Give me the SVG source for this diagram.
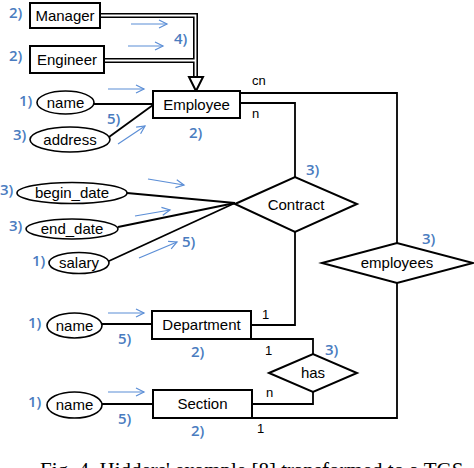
<svg xmlns="http://www.w3.org/2000/svg" width="474" height="468" viewBox="0 0 474 468">
<defs>
<style>
.box{fill:#fff;stroke:#000;stroke-width:2}
.ell{fill:#fff;stroke:#000;stroke-width:1.6}
.ln{fill:none;stroke:#000;stroke-width:1.8}
.t{font-family:"Liberation Sans",Arial,sans-serif;font-size:15px;fill:#000;text-anchor:middle}
.c{font-family:"Liberation Sans",Arial,sans-serif;font-size:13px;fill:#000}
.lb{font-family:"Open Sans","Liberation Sans",sans-serif;font-size:15px;font-weight:600;fill:#4a7cc0}
.ba{fill:none;stroke:#5b8ed6;stroke-width:1.2;marker-end:url(#ah)}
</style>
<marker id="ah" markerWidth="12" markerHeight="12" refX="9" refY="5" orient="auto" markerUnits="userSpaceOnUse">
<path d="M1,1 L9,5 L1,9" fill="none" stroke="#5b8ed6" stroke-width="1.2"/>
</marker>
</defs>
<rect width="474" height="468" fill="#fff"/>

<g id="connectors">
<path d="M100,15.5 H195.5 V78 M104,60.5 H195.5" fill="none" stroke="#000" stroke-width="5"/>
<path d="M99,15.5 H195.5 V79 M103,60.5 H195.5" fill="none" stroke="#fff" stroke-width="1.8"/>
<polygon points="189,77 203,77 196,91" fill="#fff" stroke="#000" stroke-width="2"/>
<line class="ln" x1="94" y1="104" x2="153" y2="104"/>
<line class="ln" x1="109" y1="137" x2="153" y2="105"/>
<path class="ln" d="M240,93 H397 V243"/>
<path class="ln" d="M240,103 H295 V177"/>
<line class="ln" x1="127" y1="193" x2="235" y2="203"/>
<line class="ln" x1="118" y1="227" x2="235" y2="203"/>
<line class="ln" x1="109" y1="261" x2="235" y2="203"/>
<path class="ln" d="M295,232 V325 H251"/>
<path class="ln" d="M251,339 H313 V354"/>
<path class="ln" d="M313,392 V404 H252"/>
<path class="ln" d="M397,283 V418 H252"/>
<line class="ln" x1="102" y1="324" x2="152" y2="324"/>
<line class="ln" x1="102" y1="404" x2="153" y2="404"/>
<line class="ba" x1="131" y1="24" x2="167" y2="24"/>
<line class="ba" x1="128" y1="46" x2="163" y2="46"/>
<line class="ba" x1="108" y1="89" x2="144" y2="89"/>
<line class="ba" x1="118" y1="144" x2="145" y2="126"/>
<line class="ba" x1="148" y1="179" x2="184" y2="185"/>
<line class="ba" x1="135" y1="216" x2="170" y2="210"/>
<line class="ba" x1="139" y1="258" x2="177" y2="242"/>
<line class="ba" x1="108" y1="313" x2="144" y2="313"/>
<line class="ba" x1="108" y1="392" x2="144" y2="392"/>
<text class="c" x="252" y="85">cn</text>
<text class="c" x="252" y="118">n</text>
<text class="c" x="262" y="319">1</text>
<text class="c" x="265" y="355">1</text>
<text class="c" x="266" y="397">n</text>
<text class="c" x="257" y="433">1</text>
</g>

<g id="manager"><rect class="box" x="30" y="3" width="70" height="25"/><text class="t" x="65" y="21">Manager</text><text class="lb" x="9" y="18">2)</text></g>
<g id="engineer"><rect class="box" x="30" y="46" width="74" height="27"/><text class="t" x="67" y="65">Engineer</text><text class="lb" x="9" y="61">2)</text></g>
<g id="employee"><rect class="box" x="153" y="91" width="87" height="27"/><text class="t" x="196.5" y="110">Employee</text><text class="lb" x="189" y="138">2)</text></g>
<g id="emp-name"><ellipse class="ell" cx="65.5" cy="102.5" rx="28.5" ry="11.5"/><text class="t" x="65.5" y="108">name</text><text class="lb" x="19" y="106">1)</text></g>
<g id="emp-address"><ellipse class="ell" cx="70" cy="139.5" rx="40" ry="12.5"/><text class="t" x="70" y="145">address</text><text class="lb" x="13" y="140">3)</text></g>
<g id="label-4"><text class="lb" x="174" y="44">4)</text></g>
<g id="label-5-emp"><text class="lb" x="107" y="124">5)</text></g>
<g id="contract"><polygon class="box" points="235,204 295,177 357,204 295,232"/><text class="t" x="296" y="210">Contract</text><text class="lb" x="306" y="175">3)</text></g>
<g id="begin-date"><ellipse class="ell" cx="72" cy="193" rx="55" ry="10.5"/><text class="t" x="72" y="198">begin_date</text><text class="lb" x="0" y="195">3)</text></g>
<g id="end-date"><ellipse class="ell" cx="72" cy="229" rx="46" ry="10"/><text class="t" x="72" y="234">end_date</text><text class="lb" x="9" y="231">3)</text></g>
<g id="salary"><ellipse class="ell" cx="79" cy="263" rx="30" ry="10.5"/><text class="t" x="79" y="268">salary</text><text class="lb" x="32" y="266">1)</text><text class="lb" x="182" y="247">5)</text></g>
<g id="employees"><polygon class="box" points="322,263 397,243 473,263 397,283"/><text class="t" x="397" y="268">employees</text><text class="lb" x="422" y="244">3)</text></g>
<g id="department"><rect class="box" x="152" y="311" width="99" height="28"/><text class="t" x="201.5" y="330">Department</text><text class="lb" x="191" y="357">2)</text></g>
<g id="dept-name"><ellipse class="ell" cx="74.5" cy="325.5" rx="27.5" ry="12.5"/><text class="t" x="74.5" y="331">name</text><text class="lb" x="28" y="328">1)</text><text class="lb" x="118" y="344">5)</text></g>
<g id="has"><polygon class="box" points="269,373 313,354 357,373 313,392"/><text class="t" x="313" y="378">has</text><text class="lb" x="325" y="355">3)</text></g>
<g id="section"><rect class="box" x="153" y="390" width="99" height="28"/><text class="t" x="202.5" y="409">Section</text><text class="lb" x="191" y="436">2)</text></g>
<g id="sec-name"><ellipse class="ell" cx="74.5" cy="405" rx="27.5" ry="13"/><text class="t" x="74.5" y="410">name</text><text class="lb" x="28" y="407">1)</text><text class="lb" x="118" y="424">5)</text></g>
<text x="40" y="477" font-family="'Liberation Serif','Times New Roman',serif" font-size="21" fill="#000">Fig. 4. Hidders' example [8] transformed to a TGS</text>
</svg>
